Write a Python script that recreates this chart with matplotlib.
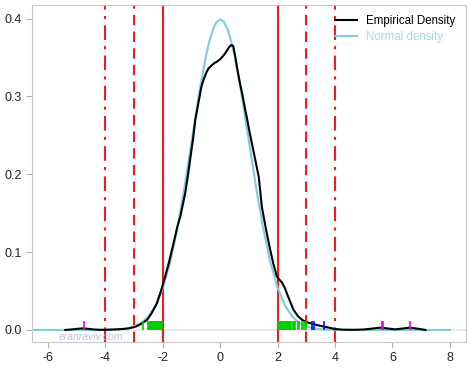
import matplotlib
matplotlib.use("Agg")
import matplotlib.pyplot as plt

plt.rcParams["font.family"] = ["Liberation Sans", "DejaVu Sans"]
plt.rcParams["axes.unicode_minus"] = False

# empirical density
emp_x = [-5.4, -5.2, -5.0, -4.8, -4.6, -4.4, -4.2, -4.0, -3.7, -3.4, -3.2, -2.96,
         -2.75, -2.55, -2.4, -2.21, -2.05, -1.94, -1.8, -1.63, -1.5, -1.39, -1.3,
         -1.22, -1.12, -1.05, -0.95, -0.87, -0.76, -0.66, -0.58, -0.48, -0.41,
         -0.3, -0.2, -0.1, 0.0, 0.1, 0.2, 0.3, 0.38, 0.45, 0.52, 0.58, 0.66,
         0.76, 0.87, 0.93, 1.0, 1.1, 1.2, 1.34, 1.45, 1.51, 1.6, 1.74, 1.85,
         1.97, 2.05, 2.15, 2.25, 2.32, 2.45, 2.55, 2.7, 2.85, 3.0, 3.14, 3.4,
         3.72, 4.0, 4.3, 4.7, 5.0, 5.3, 5.6, 5.85, 6.1, 6.35, 6.6, 6.9, 7.15]
emp_y = [0.0, 0.0006, 0.0014, 0.002, 0.0014, 0.0006, 0.0002, 0.0002, 0.0006, 0.0012,
         0.002, 0.004, 0.008, 0.013, 0.021, 0.034, 0.052, 0.066, 0.085, 0.111,
         0.132, 0.146, 0.162, 0.176, 0.2, 0.219, 0.245, 0.27, 0.292, 0.312,
         0.322, 0.331, 0.336, 0.34, 0.343, 0.345, 0.348, 0.352, 0.357, 0.363,
         0.366, 0.365, 0.352, 0.338, 0.322, 0.304, 0.283, 0.272, 0.258, 0.24,
         0.222, 0.197, 0.158, 0.146, 0.128, 0.103, 0.085, 0.069, 0.065, 0.061,
         0.054, 0.047, 0.035, 0.026, 0.018, 0.013, 0.01, 0.0086, 0.006, 0.0035,
         0.0012, 0.0003, 0.0002, 0.0006, 0.0018, 0.003, 0.0018, 0.0008, 0.0018,
         0.003, 0.0015, 0.0]

# normal density
norm_x = [-7.0, -4.5, -4.0, -3.5, -3.25, -3.0, -2.75, -2.5, -2.25, -2.0, -1.75, -1.5,
          -1.25, -1.0, -0.75, -0.5, -0.375, -0.25, -0.125, 0.0, 0.125, 0.25, 0.375,
          0.5, 0.75, 1.0, 1.25, 1.5, 1.75, 2.0, 2.25, 2.5, 2.75, 3.0, 3.25, 3.5,
          4.0, 4.5, 8.0]
norm_y = [0.0, 0.0, 0.0001, 0.0009, 0.002, 0.0044, 0.0091, 0.0175, 0.0317, 0.054,
          0.0863, 0.1295, 0.1826, 0.242, 0.3011, 0.3521, 0.3717, 0.3867, 0.3958,
          0.3989, 0.3958, 0.3867, 0.3717, 0.3521, 0.3011, 0.242, 0.1826, 0.1295,
          0.0863, 0.054, 0.0317, 0.0175, 0.0091, 0.0044, 0.002, 0.0009, 0.0001,
          0.0, 0.0]

# observations beyond 2, 3 and 4 sd
rug_green = [-2.69, -2.52, -2.49, -2.46, -2.43, -2.4, -2.37, -2.33, -2.3, -2.27,
             -2.24, -2.2, -2.17, -2.14, -2.11, -2.08, -2.05, -2.03,
             2.01, 2.04, 2.07, 2.1, 2.13, 2.16, 2.19, 2.22, 2.25, 2.28, 2.31, 2.34,
             2.37, 2.4, 2.44, 2.48, 2.52, 2.56, 2.6, 2.7, 2.74, 2.86, 2.92, 2.97]
rug_blue = [3.19, 3.28, 3.6]
rug_magenta = [-4.76, 5.63, 5.67, 6.62]

vlines = [-4, -3, -2, 2, 3, 4]
vstyles = [(0, (7, 3, 1.5, 3)), (0, (5, 3)), "-", "-", (0, (5, 3)), (0, (7, 3, 1.5, 3))]

fig = plt.figure(figsize=(4.74, 3.72), dpi=100)
ax = fig.add_axes([0.0675, 0.0806, 0.9155, 0.906])

ax.axhline(0, color="#e6e6e6", lw=1.2, zorder=0)
for v, ls in zip(vlines, vstyles):
    ax.axvline(v, color="#ee1c1c", lw=1.5, ls=ls, zorder=1)

ax.plot(norm_x, norm_y, color="#7fcdd6", lw=1.5, zorder=2, label="Normal density")
ax.plot(emp_x, emp_y, color="black", lw=1.5, zorder=3, label="Empirical Density")

ax.vlines(rug_green, -0.0005, 0.011, color="#00cc00", lw=1.2, zorder=4)
ax.vlines(rug_blue, -0.0005, 0.011, color="#1010ee", lw=1.2, zorder=4)
ax.vlines(rug_magenta, -0.0005, 0.011, color="#ee00ee", lw=1.2, zorder=4)

ax.text(-5.62, -0.0095, "eranraviv.com", fontsize=7.5, style="italic",
        color="#b4b4f0", alpha=0.85, va="center", ha="left")

ax.set_xlim(-6.56, 8.56)
ax.set_ylim(-0.0155, 0.4175)
ax.set_xticks([-6, -4, -2, 0, 2, 4, 6, 8])
ax.set_yticks([0.0, 0.1, 0.2, 0.3, 0.4])
ax.set_yticklabels(["0.0", "0.1", "0.2", "0.3", "0.4"])
for s in ax.spines.values():
    s.set_color("#c8c8c8")
ax.tick_params(colors="#b0b0b0", labelcolor="#222222", labelsize=9, length=4)

h, l = ax.get_legend_handles_labels()
leg = ax.legend(h[::-1], l[::-1], loc="upper right", frameon=False, fontsize=8.3,
                handlelength=1.9, handletextpad=0.8, borderaxespad=0.5,
                labelspacing=0.35)
leg.get_texts()[1].set_color("#a8dbe3")

fig.savefig("out.png", dpi=100)
